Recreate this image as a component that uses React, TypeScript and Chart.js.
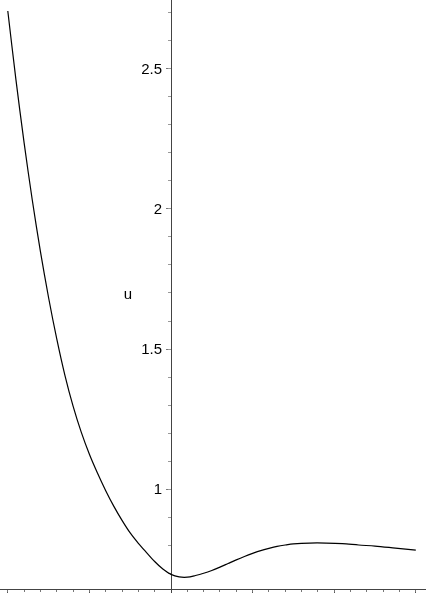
import { useEffect, useRef } from 'react';
import Chart from 'chart.js/auto';

// curve samples
const xValues = [
  -2.0, -1.9, -1.8, -1.7, -1.6, -1.5, -1.4, -1.3, -1.2, -1.1, -1.0, -0.9, -0.8,
  -0.7, -0.6, -0.5, -0.4, -0.3, -0.2, -0.1, 0.0, 0.1, 0.2, 0.3, 0.4, 0.5, 0.6,
  0.7, 0.8, 0.9, 1.0, 1.1, 1.2, 1.3, 1.4, 1.5, 1.7, 1.9, 2.1, 2.3, 2.5, 2.75, 3.0,
];
const uValues = [
  2.707, 2.461, 2.236, 2.032, 1.848, 1.683, 1.536, 1.406, 1.296, 1.203, 1.124,
  1.056, 0.994, 0.938, 0.888, 0.843, 0.806, 0.773, 0.741, 0.714, 0.695, 0.686,
  0.685, 0.691, 0.699, 0.709, 0.721, 0.734, 0.747, 0.759, 0.77, 0.78, 0.788,
  0.795, 0.8, 0.804, 0.807, 0.807, 0.805, 0.8, 0.796, 0.789, 0.782,
];

const xRange = [-2.0956, 3.125];
const uRange = [0.6286, 2.7464];
const xAxisAt = 0.642;
const majorLabels = [1, 1.5, 2, 2.5];
const axisTitle = 'u';

const FONT = '"Liberation Sans", Arial, Helvetica, sans-serif';

export default function App() {
  const canvasRef = useRef<HTMLCanvasElement>(null);
  const chartRef = useRef<Chart | null>(null);

  useEffect(() => {
    document.body.style.margin = '0';
    if (!canvasRef.current) return;
    if (chartRef.current) chartRef.current.destroy();
    const ctx = canvasRef.current.getContext('2d');
    if (!ctx) return;

    // tick labels and the "u" title sit left of the y axis, which is drawn at x = 0
    const labelPlugin = {
      id: 'axisText',
      afterDraw(chart: any) {
        const c = chart.ctx;
        const axisX = chart.scales.x.getPixelForValue(0);
        c.save();
        c.fillStyle = '#000';
        c.font = `15px ${FONT}`;
        c.textAlign = 'right';
        c.textBaseline = 'middle';
        majorLabels.forEach((v) => {
          c.fillText(String(v), axisX - 9, chart.scales.y.getPixelForValue(v) + 0.5);
        });
        c.textAlign = 'center';
        c.fillText(axisTitle, axisX - 43, chart.scales.y.getPixelForValue(1.693));
        c.restore();
      },
    };

    const noPad = (scale: any) => {
      scale.paddingTop = 0;
      scale.paddingBottom = 0;
      scale.paddingLeft = 0;
      scale.paddingRight = 0;
    };

    chartRef.current = new Chart(ctx, {
      type: 'scatter',
      data: {
        datasets: [{
          data: xValues.map((x, i) => ({ x, y: uValues[i] })),
          showLine: true,
          borderColor: '#000',
          borderWidth: 1.2,
          pointRadius: 0,
          tension: 0.3,
          xAxisID: 'x',
          yAxisID: 'y',
        }],
      },
      options: {
        animation: false,
        responsive: true,
        maintainAspectRatio: false,
        layout: { padding: 0 },
        plugins: { legend: { display: false }, tooltip: { enabled: false } },
        scales: {
          x: {
            type: 'linear',
            min: xRange[0],
            max: xRange[1],
            position: { y: xAxisAt },
            ticks: { display: false, stepSize: 1, includeBounds: false },
            grid: { drawOnChartArea: false, tickLength: 5, color: '#555', lineWidth: 1 },
            border: { color: '#444', width: 1 },
            afterFit: noPad,
          },
          x2: {
            type: 'linear',
            axis: 'x',
            min: xRange[0],
            max: xRange[1],
            position: { y: xAxisAt },
            ticks: { display: false, stepSize: 0.2, includeBounds: false },
            grid: { drawOnChartArea: false, tickLength: 3, color: '#777', lineWidth: 1 },
            border: { display: false },
            afterFit: noPad,
          },
          y: {
            type: 'linear',
            min: uRange[0],
            max: uRange[1],
            position: { x: 0 },
            afterBuildTicks: (scale: any) => {
              scale.ticks = majorLabels.map((v) => ({ value: v }));
            },
            ticks: { display: false },
            grid: { drawOnChartArea: false, tickLength: 5, color: '#777', lineWidth: 1 },
            border: { color: '#444', width: 1 },
            afterFit: noPad,
          },
          y2: {
            type: 'linear',
            axis: 'y',
            min: uRange[0],
            max: uRange[1],
            position: { x: 0 },
            ticks: { display: false, stepSize: 0.1, includeBounds: false },
            grid: { drawOnChartArea: false, tickLength: 3, color: '#999', lineWidth: 1 },
            border: { display: false },
            afterFit: noPad,
          },
        },
      },
      plugins: [labelPlugin],
    });

    return () => {
      if (chartRef.current) {
        chartRef.current.destroy();
        chartRef.current = null;
      }
    };
  }, []);

  return (
    <div style={{ width: 426, height: 593, position: 'relative', background: '#fff' }}>
      <canvas ref={canvasRef}></canvas>
    </div>
  );
}
